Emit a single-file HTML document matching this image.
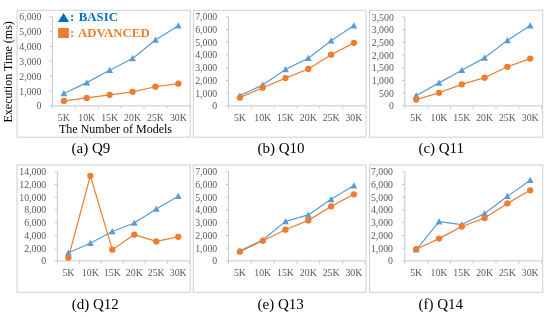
<!DOCTYPE html>
<html><head><meta charset="utf-8"><title>Execution Time</title>
<style>html,body{margin:0;padding:0;background:#fff}svg{display:block}text{font-family:"Liberation Serif","Times New Roman",serif}</style></head><body>
<svg width="550" height="317" viewBox="0 0 550 317">
<rect width="550" height="317" fill="#fff"/>
<rect x="17.0" y="10.3" width="173.20" height="126.90" fill="#fff" stroke="#d0d0d0" stroke-width="1"/>
<path d="M52.4 16.7V105.8H189.80" fill="none" stroke="#c8c8c8" stroke-width="1"/>
<text x="41.40" y="109.35" font-size="9.8" fill="#595959" text-anchor="end">0</text>
<text x="41.40" y="94.50" font-size="9.8" fill="#595959" text-anchor="end">1,000</text>
<text x="41.40" y="79.65" font-size="9.8" fill="#595959" text-anchor="end">2,000</text>
<text x="41.40" y="64.80" font-size="9.8" fill="#595959" text-anchor="end">3,000</text>
<text x="41.40" y="49.95" font-size="9.8" fill="#595959" text-anchor="end">4,000</text>
<text x="41.40" y="35.10" font-size="9.8" fill="#595959" text-anchor="end">5,000</text>
<text x="41.40" y="20.25" font-size="9.8" fill="#595959" text-anchor="end">6,000</text>
<path d="M49.60 105.80H52.4M49.60 90.95H52.4M49.60 76.10H52.4M49.60 61.25H52.4M49.60 46.40H52.4M49.60 31.55H52.4M49.60 16.70H52.4M52.40 105.8v2.8M75.30 105.8v2.8M98.20 105.8v2.8M121.10 105.8v2.8M144.00 105.8v2.8M166.90 105.8v2.8M189.80 105.8v2.8" fill="none" stroke="#c8c8c8" stroke-width="1"/>
<text x="63.85" y="121.40" font-size="9.8" fill="#595959" text-anchor="middle">5K</text>
<text x="86.75" y="121.40" font-size="9.8" fill="#595959" text-anchor="middle">10K</text>
<text x="109.65" y="121.40" font-size="9.8" fill="#595959" text-anchor="middle">15K</text>
<text x="132.55" y="121.40" font-size="9.8" fill="#595959" text-anchor="middle">20K</text>
<text x="155.45" y="121.40" font-size="9.8" fill="#595959" text-anchor="middle">25K</text>
<text x="178.35" y="121.40" font-size="9.8" fill="#595959" text-anchor="middle">30K</text>
<polyline points="63.85,93.55 86.75,82.63 109.65,70.20 132.55,58.50 155.45,40.00 178.35,25.80" fill="none" stroke="#5b9bd5" stroke-width="1.2" stroke-linejoin="round"/>
<polyline points="63.85,100.91 86.75,97.93 109.65,94.80 132.55,91.80 155.45,86.72 178.35,83.67" fill="none" stroke="#ed7d31" stroke-width="1.2" stroke-linejoin="round"/>
<path d="M63.85 90.10l3.4 6.25h-6.8z" fill="#5b9bd5"/>
<path d="M86.75 79.18l3.4 6.25h-6.8z" fill="#5b9bd5"/>
<path d="M109.65 66.75l3.4 6.25h-6.8z" fill="#5b9bd5"/>
<path d="M132.55 55.05l3.4 6.25h-6.8z" fill="#5b9bd5"/>
<path d="M155.45 36.55l3.4 6.25h-6.8z" fill="#5b9bd5"/>
<path d="M178.35 22.35l3.4 6.25h-6.8z" fill="#5b9bd5"/>
<circle cx="63.85" cy="100.91" r="3.15" fill="#ed7d31"/>
<circle cx="86.75" cy="97.93" r="3.15" fill="#ed7d31"/>
<circle cx="109.65" cy="94.80" r="3.15" fill="#ed7d31"/>
<circle cx="132.55" cy="91.80" r="3.15" fill="#ed7d31"/>
<circle cx="155.45" cy="86.72" r="3.15" fill="#ed7d31"/>
<circle cx="178.35" cy="83.67" r="3.15" fill="#ed7d31"/>
<text x="71.6" y="152.5" font-size="15" fill="#000">(a) Q9</text>
<rect x="193.3" y="10.3" width="172.70" height="126.90" fill="#fff" stroke="#d0d0d0" stroke-width="1"/>
<path d="M228.5 16.8V105.8H365.30" fill="none" stroke="#c8c8c8" stroke-width="1"/>
<text x="217.20" y="109.35" font-size="9.8" fill="#595959" text-anchor="end">0</text>
<text x="217.20" y="96.64" font-size="9.8" fill="#595959" text-anchor="end">1,000</text>
<text x="217.20" y="83.92" font-size="9.8" fill="#595959" text-anchor="end">2,000</text>
<text x="217.20" y="71.21" font-size="9.8" fill="#595959" text-anchor="end">3,000</text>
<text x="217.20" y="58.49" font-size="9.8" fill="#595959" text-anchor="end">4,000</text>
<text x="217.20" y="45.78" font-size="9.8" fill="#595959" text-anchor="end">5,000</text>
<text x="217.20" y="33.06" font-size="9.8" fill="#595959" text-anchor="end">6,000</text>
<text x="217.20" y="20.35" font-size="9.8" fill="#595959" text-anchor="end">7,000</text>
<path d="M225.70 105.80H228.5M225.70 93.09H228.5M225.70 80.37H228.5M225.70 67.66H228.5M225.70 54.94H228.5M225.70 42.23H228.5M225.70 29.51H228.5M225.70 16.80H228.5M228.50 105.8v2.8M251.30 105.8v2.8M274.10 105.8v2.8M296.90 105.8v2.8M319.70 105.8v2.8M342.50 105.8v2.8M365.30 105.8v2.8" fill="none" stroke="#c8c8c8" stroke-width="1"/>
<text x="239.90" y="121.40" font-size="9.8" fill="#595959" text-anchor="middle">5K</text>
<text x="262.70" y="121.40" font-size="9.8" fill="#595959" text-anchor="middle">10K</text>
<text x="285.50" y="121.40" font-size="9.8" fill="#595959" text-anchor="middle">15K</text>
<text x="308.30" y="121.40" font-size="9.8" fill="#595959" text-anchor="middle">20K</text>
<text x="331.10" y="121.40" font-size="9.8" fill="#595959" text-anchor="middle">25K</text>
<text x="353.90" y="121.40" font-size="9.8" fill="#595959" text-anchor="middle">30K</text>
<polyline points="239.90,95.63 262.70,84.95 285.50,69.39 308.30,58.29 331.10,40.78 353.90,25.62" fill="none" stroke="#5b9bd5" stroke-width="1.2" stroke-linejoin="round"/>
<polyline points="239.90,97.66 262.70,87.69 285.50,78.10 308.30,68.99 331.10,54.69 353.90,42.86" fill="none" stroke="#ed7d31" stroke-width="1.2" stroke-linejoin="round"/>
<path d="M239.90 92.18l3.4 6.25h-6.8z" fill="#5b9bd5"/>
<path d="M262.70 81.50l3.4 6.25h-6.8z" fill="#5b9bd5"/>
<path d="M285.50 65.94l3.4 6.25h-6.8z" fill="#5b9bd5"/>
<path d="M308.30 54.84l3.4 6.25h-6.8z" fill="#5b9bd5"/>
<path d="M331.10 37.33l3.4 6.25h-6.8z" fill="#5b9bd5"/>
<path d="M353.90 22.17l3.4 6.25h-6.8z" fill="#5b9bd5"/>
<circle cx="239.90" cy="97.66" r="3.15" fill="#ed7d31"/>
<circle cx="262.70" cy="87.69" r="3.15" fill="#ed7d31"/>
<circle cx="285.50" cy="78.10" r="3.15" fill="#ed7d31"/>
<circle cx="308.30" cy="68.99" r="3.15" fill="#ed7d31"/>
<circle cx="331.10" cy="54.69" r="3.15" fill="#ed7d31"/>
<circle cx="353.90" cy="42.86" r="3.15" fill="#ed7d31"/>
<text x="257.5" y="152.5" font-size="15" fill="#000">(b) Q10</text>
<rect x="369.5" y="10.3" width="173.20" height="126.90" fill="#fff" stroke="#d0d0d0" stroke-width="1"/>
<path d="M404.8 17.0V105.8H541.60" fill="none" stroke="#c8c8c8" stroke-width="1"/>
<text x="393.80" y="109.35" font-size="9.8" fill="#595959" text-anchor="end">0</text>
<text x="393.80" y="96.66" font-size="9.8" fill="#595959" text-anchor="end">500</text>
<text x="393.80" y="83.98" font-size="9.8" fill="#595959" text-anchor="end">1,000</text>
<text x="393.80" y="71.29" font-size="9.8" fill="#595959" text-anchor="end">1,500</text>
<text x="393.80" y="58.61" font-size="9.8" fill="#595959" text-anchor="end">2,000</text>
<text x="393.80" y="45.92" font-size="9.8" fill="#595959" text-anchor="end">2,500</text>
<text x="393.80" y="33.24" font-size="9.8" fill="#595959" text-anchor="end">3,000</text>
<text x="393.80" y="20.55" font-size="9.8" fill="#595959" text-anchor="end">3,500</text>
<path d="M402.00 105.80H404.8M402.00 93.11H404.8M402.00 80.43H404.8M402.00 67.74H404.8M402.00 55.06H404.8M402.00 42.37H404.8M402.00 29.69H404.8M402.00 17.00H404.8M404.80 105.8v2.8M427.60 105.8v2.8M450.40 105.8v2.8M473.20 105.8v2.8M496.00 105.8v2.8M518.80 105.8v2.8M541.60 105.8v2.8" fill="none" stroke="#c8c8c8" stroke-width="1"/>
<text x="416.20" y="121.40" font-size="9.8" fill="#595959" text-anchor="middle">5K</text>
<text x="439.00" y="121.40" font-size="9.8" fill="#595959" text-anchor="middle">10K</text>
<text x="461.80" y="121.40" font-size="9.8" fill="#595959" text-anchor="middle">15K</text>
<text x="484.60" y="121.40" font-size="9.8" fill="#595959" text-anchor="middle">20K</text>
<text x="507.40" y="121.40" font-size="9.8" fill="#595959" text-anchor="middle">25K</text>
<text x="530.20" y="121.40" font-size="9.8" fill="#595959" text-anchor="middle">30K</text>
<polyline points="416.20,95.80 439.00,82.89 461.80,70.20 484.60,57.85 507.40,40.39 530.20,25.60" fill="none" stroke="#5b9bd5" stroke-width="1.2" stroke-linejoin="round"/>
<polyline points="416.20,99.61 439.00,92.81 461.80,84.36 484.60,77.69 507.40,66.80 530.20,58.61" fill="none" stroke="#ed7d31" stroke-width="1.2" stroke-linejoin="round"/>
<path d="M416.20 92.35l3.4 6.25h-6.8z" fill="#5b9bd5"/>
<path d="M439.00 79.44l3.4 6.25h-6.8z" fill="#5b9bd5"/>
<path d="M461.80 66.75l3.4 6.25h-6.8z" fill="#5b9bd5"/>
<path d="M484.60 54.40l3.4 6.25h-6.8z" fill="#5b9bd5"/>
<path d="M507.40 36.94l3.4 6.25h-6.8z" fill="#5b9bd5"/>
<path d="M530.20 22.15l3.4 6.25h-6.8z" fill="#5b9bd5"/>
<circle cx="416.20" cy="99.61" r="3.15" fill="#ed7d31"/>
<circle cx="439.00" cy="92.81" r="3.15" fill="#ed7d31"/>
<circle cx="461.80" cy="84.36" r="3.15" fill="#ed7d31"/>
<circle cx="484.60" cy="77.69" r="3.15" fill="#ed7d31"/>
<circle cx="507.40" cy="66.80" r="3.15" fill="#ed7d31"/>
<circle cx="530.20" cy="58.61" r="3.15" fill="#ed7d31"/>
<text x="418.4" y="152.5" font-size="15" fill="#000">(c) Q11</text>
<rect x="17.0" y="165.0" width="173.20" height="127.30" fill="#fff" stroke="#d0d0d0" stroke-width="1"/>
<path d="M57.4 171.7V260.9H189.22" fill="none" stroke="#c8c8c8" stroke-width="1"/>
<text x="46.20" y="264.45" font-size="9.8" fill="#595959" text-anchor="end">0</text>
<text x="46.20" y="251.71" font-size="9.8" fill="#595959" text-anchor="end">2,000</text>
<text x="46.20" y="238.96" font-size="9.8" fill="#595959" text-anchor="end">4,000</text>
<text x="46.20" y="226.22" font-size="9.8" fill="#595959" text-anchor="end">6,000</text>
<text x="46.20" y="213.48" font-size="9.8" fill="#595959" text-anchor="end">8,000</text>
<text x="46.20" y="200.74" font-size="9.8" fill="#595959" text-anchor="end">10,000</text>
<text x="46.20" y="187.99" font-size="9.8" fill="#595959" text-anchor="end">12,000</text>
<text x="46.20" y="175.25" font-size="9.8" fill="#595959" text-anchor="end">14,000</text>
<path d="M54.60 260.90H57.4M54.60 248.16H57.4M54.60 235.41H57.4M54.60 222.67H57.4M54.60 209.93H57.4M54.60 197.19H57.4M54.60 184.44H57.4M54.60 171.70H57.4M57.40 260.9v2.8M79.37 260.9v2.8M101.34 260.9v2.8M123.31 260.9v2.8M145.28 260.9v2.8M167.25 260.9v2.8M189.22 260.9v2.8" fill="none" stroke="#c8c8c8" stroke-width="1"/>
<text x="68.38" y="276.10" font-size="9.8" fill="#595959" text-anchor="middle">5K</text>
<text x="90.35" y="276.10" font-size="9.8" fill="#595959" text-anchor="middle">10K</text>
<text x="112.32" y="276.10" font-size="9.8" fill="#595959" text-anchor="middle">15K</text>
<text x="134.29" y="276.10" font-size="9.8" fill="#595959" text-anchor="middle">20K</text>
<text x="156.26" y="276.10" font-size="9.8" fill="#595959" text-anchor="middle">25K</text>
<text x="178.23" y="276.10" font-size="9.8" fill="#595959" text-anchor="middle">30K</text>
<polyline points="68.38,252.78 90.35,243.30 112.32,231.50 134.29,223.05 156.26,208.99 178.23,196.29" fill="none" stroke="#5b9bd5" stroke-width="1.2" stroke-linejoin="round"/>
<polyline points="68.38,257.69 90.35,175.78 112.32,249.70 134.29,234.59 156.26,241.40 178.23,236.80" fill="none" stroke="#ed7d31" stroke-width="1.2" stroke-linejoin="round"/>
<path d="M68.38 249.33l3.4 6.25h-6.8z" fill="#5b9bd5"/>
<path d="M90.35 239.85l3.4 6.25h-6.8z" fill="#5b9bd5"/>
<path d="M112.32 228.05l3.4 6.25h-6.8z" fill="#5b9bd5"/>
<path d="M134.29 219.60l3.4 6.25h-6.8z" fill="#5b9bd5"/>
<path d="M156.26 205.54l3.4 6.25h-6.8z" fill="#5b9bd5"/>
<path d="M178.23 192.84l3.4 6.25h-6.8z" fill="#5b9bd5"/>
<circle cx="68.38" cy="257.69" r="3.15" fill="#ed7d31"/>
<circle cx="90.35" cy="175.78" r="3.15" fill="#ed7d31"/>
<circle cx="112.32" cy="249.70" r="3.15" fill="#ed7d31"/>
<circle cx="134.29" cy="234.59" r="3.15" fill="#ed7d31"/>
<circle cx="156.26" cy="241.40" r="3.15" fill="#ed7d31"/>
<circle cx="178.23" cy="236.80" r="3.15" fill="#ed7d31"/>
<text x="71.8" y="309.1" font-size="15" fill="#000">(d) Q12</text>
<rect x="193.3" y="165.0" width="172.70" height="127.30" fill="#fff" stroke="#d0d0d0" stroke-width="1"/>
<path d="M228.5 171.7V260.9H365.30" fill="none" stroke="#c8c8c8" stroke-width="1"/>
<text x="217.20" y="264.45" font-size="9.8" fill="#595959" text-anchor="end">0</text>
<text x="217.20" y="251.71" font-size="9.8" fill="#595959" text-anchor="end">1,000</text>
<text x="217.20" y="238.96" font-size="9.8" fill="#595959" text-anchor="end">2,000</text>
<text x="217.20" y="226.22" font-size="9.8" fill="#595959" text-anchor="end">3,000</text>
<text x="217.20" y="213.48" font-size="9.8" fill="#595959" text-anchor="end">4,000</text>
<text x="217.20" y="200.74" font-size="9.8" fill="#595959" text-anchor="end">5,000</text>
<text x="217.20" y="187.99" font-size="9.8" fill="#595959" text-anchor="end">6,000</text>
<text x="217.20" y="175.25" font-size="9.8" fill="#595959" text-anchor="end">7,000</text>
<path d="M225.70 260.90H228.5M225.70 248.16H228.5M225.70 235.41H228.5M225.70 222.67H228.5M225.70 209.93H228.5M225.70 197.19H228.5M225.70 184.44H228.5M225.70 171.70H228.5M228.50 260.9v2.8M251.30 260.9v2.8M274.10 260.9v2.8M296.90 260.9v2.8M319.70 260.9v2.8M342.50 260.9v2.8M365.30 260.9v2.8" fill="none" stroke="#c8c8c8" stroke-width="1"/>
<text x="239.90" y="276.10" font-size="9.8" fill="#595959" text-anchor="middle">5K</text>
<text x="262.70" y="276.10" font-size="9.8" fill="#595959" text-anchor="middle">10K</text>
<text x="285.50" y="276.10" font-size="9.8" fill="#595959" text-anchor="middle">15K</text>
<text x="308.30" y="276.10" font-size="9.8" fill="#595959" text-anchor="middle">20K</text>
<text x="331.10" y="276.10" font-size="9.8" fill="#595959" text-anchor="middle">25K</text>
<text x="353.90" y="276.10" font-size="9.8" fill="#595959" text-anchor="middle">30K</text>
<polyline points="239.90,250.71 262.70,240.00 285.50,221.40 308.30,214.89 331.10,199.34 353.90,185.59" fill="none" stroke="#5b9bd5" stroke-width="1.2" stroke-linejoin="round"/>
<polyline points="239.90,251.70 262.70,240.79 285.50,229.69 308.30,220.38 331.10,206.40 353.90,194.28" fill="none" stroke="#ed7d31" stroke-width="1.2" stroke-linejoin="round"/>
<path d="M239.90 247.26l3.4 6.25h-6.8z" fill="#5b9bd5"/>
<path d="M262.70 236.55l3.4 6.25h-6.8z" fill="#5b9bd5"/>
<path d="M285.50 217.95l3.4 6.25h-6.8z" fill="#5b9bd5"/>
<path d="M308.30 211.44l3.4 6.25h-6.8z" fill="#5b9bd5"/>
<path d="M331.10 195.89l3.4 6.25h-6.8z" fill="#5b9bd5"/>
<path d="M353.90 182.14l3.4 6.25h-6.8z" fill="#5b9bd5"/>
<circle cx="239.90" cy="251.70" r="3.15" fill="#ed7d31"/>
<circle cx="262.70" cy="240.79" r="3.15" fill="#ed7d31"/>
<circle cx="285.50" cy="229.69" r="3.15" fill="#ed7d31"/>
<circle cx="308.30" cy="220.38" r="3.15" fill="#ed7d31"/>
<circle cx="331.10" cy="206.40" r="3.15" fill="#ed7d31"/>
<circle cx="353.90" cy="194.28" r="3.15" fill="#ed7d31"/>
<text x="257.5" y="309.1" font-size="15" fill="#000">(e) Q13</text>
<rect x="369.5" y="165.0" width="173.20" height="127.30" fill="#fff" stroke="#d0d0d0" stroke-width="1"/>
<path d="M404.8 171.7V260.9H541.60" fill="none" stroke="#c8c8c8" stroke-width="1"/>
<text x="393.00" y="264.45" font-size="9.8" fill="#595959" text-anchor="end">0</text>
<text x="393.00" y="251.71" font-size="9.8" fill="#595959" text-anchor="end">1,000</text>
<text x="393.00" y="238.96" font-size="9.8" fill="#595959" text-anchor="end">2,000</text>
<text x="393.00" y="226.22" font-size="9.8" fill="#595959" text-anchor="end">3,000</text>
<text x="393.00" y="213.48" font-size="9.8" fill="#595959" text-anchor="end">4,000</text>
<text x="393.00" y="200.74" font-size="9.8" fill="#595959" text-anchor="end">5,000</text>
<text x="393.00" y="187.99" font-size="9.8" fill="#595959" text-anchor="end">6,000</text>
<text x="393.00" y="175.25" font-size="9.8" fill="#595959" text-anchor="end">7,000</text>
<path d="M402.00 260.90H404.8M402.00 248.16H404.8M402.00 235.41H404.8M402.00 222.67H404.8M402.00 209.93H404.8M402.00 197.19H404.8M402.00 184.44H404.8M402.00 171.70H404.8M404.80 260.9v2.8M427.60 260.9v2.8M450.40 260.9v2.8M473.20 260.9v2.8M496.00 260.9v2.8M518.80 260.9v2.8M541.60 260.9v2.8" fill="none" stroke="#c8c8c8" stroke-width="1"/>
<text x="416.20" y="276.10" font-size="9.8" fill="#595959" text-anchor="middle">5K</text>
<text x="439.00" y="276.10" font-size="9.8" fill="#595959" text-anchor="middle">10K</text>
<text x="461.80" y="276.10" font-size="9.8" fill="#595959" text-anchor="middle">15K</text>
<text x="484.60" y="276.10" font-size="9.8" fill="#595959" text-anchor="middle">20K</text>
<text x="507.40" y="276.10" font-size="9.8" fill="#595959" text-anchor="middle">25K</text>
<text x="530.20" y="276.10" font-size="9.8" fill="#595959" text-anchor="middle">30K</text>
<polyline points="416.20,249.81 439.00,221.65 461.80,224.58 484.60,213.50 507.40,196.29 530.20,180.19" fill="none" stroke="#5b9bd5" stroke-width="1.2" stroke-linejoin="round"/>
<polyline points="416.20,249.20 439.00,238.60 461.80,226.49 484.60,218.10 507.40,203.39 530.20,190.28" fill="none" stroke="#ed7d31" stroke-width="1.2" stroke-linejoin="round"/>
<path d="M416.20 246.36l3.4 6.25h-6.8z" fill="#5b9bd5"/>
<path d="M439.00 218.20l3.4 6.25h-6.8z" fill="#5b9bd5"/>
<path d="M461.80 221.13l3.4 6.25h-6.8z" fill="#5b9bd5"/>
<path d="M484.60 210.05l3.4 6.25h-6.8z" fill="#5b9bd5"/>
<path d="M507.40 192.84l3.4 6.25h-6.8z" fill="#5b9bd5"/>
<path d="M530.20 176.74l3.4 6.25h-6.8z" fill="#5b9bd5"/>
<circle cx="416.20" cy="249.20" r="3.15" fill="#ed7d31"/>
<circle cx="439.00" cy="238.60" r="3.15" fill="#ed7d31"/>
<circle cx="461.80" cy="226.49" r="3.15" fill="#ed7d31"/>
<circle cx="484.60" cy="218.10" r="3.15" fill="#ed7d31"/>
<circle cx="507.40" cy="203.39" r="3.15" fill="#ed7d31"/>
<circle cx="530.20" cy="190.28" r="3.15" fill="#ed7d31"/>
<text x="418.4" y="309.1" font-size="15" fill="#000">(f) Q14</text>
<path d="M63.55 13.0l5.65 8.9h-11.3z" fill="#0070c0"/>
<text x="70.1" y="20.9" word-spacing="1.2" font-size="12.8" font-weight="bold" fill="#0070c0">: BASIC</text>
<rect x="58.1" y="28.0" width="10.8" height="10.0" fill="#ed7d31"/>
<text x="70.1" y="37.1" word-spacing="1.2" font-size="12.8" font-weight="bold" fill="#ed7d31">: ADVANCED</text>
<text x="59" y="132.6" font-size="12" fill="#000">The Number of Models</text>
<text transform="translate(12.4 71.8) rotate(-90)" font-size="12" fill="#000" text-anchor="middle">Execution Time (ms)</text>
</svg></body></html>
